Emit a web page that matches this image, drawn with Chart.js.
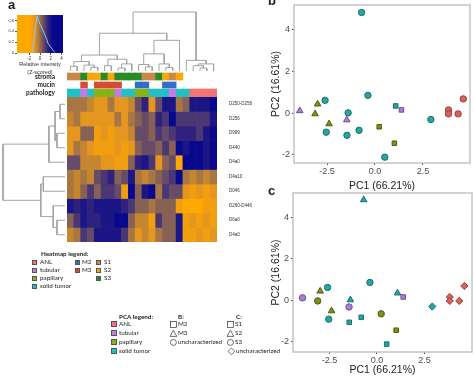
<!DOCTYPE html>
<html>
<head>
<meta charset="utf-8">
<script src="https://cdn.jsdelivr.net/npm/chart.js@4.4.1/dist/chart.umd.min.js"></script>
<style>
  body { margin: 0; width: 474px; height: 376px; overflow: hidden; position: relative; background: #fff; font-family: 'Lato', 'Open Sans', sans-serif; }
  canvas { position: absolute; }
  .t { position: absolute; white-space: nowrap; color: #222; }
  .box { position: absolute; box-sizing: border-box; border: 0.6px solid #555; }
  svg { position: absolute; overflow: visible; }
</style>
</head>
<body>
<script>
// ---- data ----
const rowLabels = ['D250-D258', 'D256', 'D999', 'D440', 'D4a0', 'D4a10', 'D046', 'D260-D446', 'D6a0', 'D4a0'];
const pathology = ['solid tumor','solid tumor','tubular','solid tumor','papillary','papillary','papillary','tubular','solid tumor','solid tumor','papillary','papillary','solid tumor','solid tumor','solid tumor','tubular','solid tumor','solid tumor','ANL','ANL','ANL','ANL'];
const mucin = [null,null,'M3',null,'M3','M3','M3','M3',null,null,'M2','M2',null,null,'M2','M2',null,null,null,null,null,null];
const stroma = ['S1','S1','S3','S2','S2','S3','S2','S3','S3','S3','S3','S1','S1','S3','S2','S1','S2',null,null,null,null,null];

// relative intensity (z-scored), one array per heatmap row
const z0 = [-0.5,-0.5,-0.5,-1,-1.5,-1.5,-0.5,-1.5,-1.5,-1,0.5,1.5,-1.5,0.5,2,2,-0.5,0,2,2,2,2.5];
const z1 = [-1,-0.5,-1.5,-1.5,-1.5,-1.5,-1.5,-0.5,-1.5,-0.5,0,0.5,0,1.5,1,2.5,1,1,1,1,1,2];
const z2 = [-1.5,-1.5,0,0,-2,-1.5,-2,-1.5,-1.5,-1,0.5,0.5,0,1,0.5,1,1.5,1.5,1.5,1,2,2.5];
const z3 = [-1.5,-0.5,-1,-1.5,-2,-2,-2,-1.5,-2,-1.5,0,0.5,0.5,0,1,0,2.5,2,2.5,2.5,2,2.5];
const z4 = [0.5,0.5,-1,-1,-1,-1.5,-1.5,-2,-2,0,1.5,2,1,-1.5,0,0.5,-2.5,2.5,2.5,2.5,2,2.5];
const z5 = [-0.5,-1,-0.5,-1,0.5,1,1.5,0,0.5,2,-0.5,-1,-0.5,0,0.5,1,2.5,-0.5,-1,-0.5,-1,-0.5];
const z6 = [-0.5,-1,0,1,0,1,1,0.5,-2,2.5,0,2,2.5,-0.5,1,0.5,0.5,-1.5,-2,-1.5,-2,-1.5];
const z7 = [2,1.5,2,1.5,2,2,2,2,1.5,1,0,0,-0.5,0,0,0,-2,-2.5,-2.5,-2.5,-2,-2];
const z8 = [0,1,2,1.5,1.5,2,2,2.5,2.5,0,-1,-1,-2,1,0,0,2,-2,-1.5,-2,-1.5,-2];
const z9 = [-1,-0.5,1,0.5,2,2,2,2,1,-0.5,-1.5,-1,-1.5,-0.5,0,0,2,-2,-2,-1.5,-2,-1.5];
const heat = [z0, z1, z2, z3, z4, z5, z6, z7, z8, z9];

// dendrograms: [left node, right node, height]
const colMerges = [[0,1,0.8],[3,4,0.6],[2,23,1.0],[22,24,1.6],[5,6,0.9],[7,8,0.5],[27,9,1.2],[26,28,2.0],[25,29,2.7],
  [11,12,0.7],[10,31,1.1],[14,15,0.6],[13,33,1.2],[32,34,2.9],[35,16,5.2],[30,36,6.4],
  [19,20,0.5],[18,38,0.9],[39,21,1.2],[17,40,1.8],[37,41,10]];
const rowMerges = [[0,1,0.8],[2,3,1.3],[10,11,1.6],[12,4,2.6],[5,6,3.5],[8,9,1.3],[7,15,1.9],[14,16,3.9],[13,17,10]];

// colour key: distribution of z-scores
const keyZ = [-1.5,-1.1,-0.8,-0.56,-0.3,0,0.4,0.93,1.2,1.5,1.9,2.24,2.5,2.8];
const keyDensity = [0,0.25,0.5,0.68,0.6,0.53,0.45,0.33,0.27,0.18,0.12,0.08,0.04,0.01];

// PCA scores, same sample order as heatmap columns
const pc1 = [-1.46,-0.83,-3.92,-1.40,-2.99,-3.12,-2.39,-1.47,-2.60,-2.54,0.22,1.01,0.51,-0.37,1.08,1.38,-0.70,2.91,3.83,3.83,4.33,4.60];
const pc2 = [-1.07,-0.83,0.11,0.01,0.43,-0.04,-0.52,-0.33,0.61,-0.92,-0.66,-1.45,-2.12,0.85,0.34,0.15,4.83,-0.31,0.15,-0.04,-0.04,0.68];

// ---- styles ----
const pathCol = {'ANL':'#f27472','tubular':'#c47be6','papillary':'#86b418','solid tumor':'#22c0c6'};
const mucinCol = {'M2':'#2f6fc9','M3':'#d84a32'};
const stromaCol = {'S1':'#c98848','S2':'#f7a80c','S3':'#2a8a28'};
const pcaFill = {'ANL':'#d9625f','tubular':'#a97fd2','papillary':'#7f901f','solid tumor':'#27a6a1'};
const pcaEdge = {'ANL':'#9c3c3a','tubular':'#6e4c96','papillary':'#4f5c10','solid tumor':'#17716d'};
const mucinShape = {'M2':'rect','M3':'triangle'};
const stromaShape = {'S1':'rect','S2':'triangle','S3':'circle'};

const rampStops = [[-2.5,[255,168,0]],[-1.5,[228,150,30]],[-0.5,[168,118,66]],[0.5,[102,76,104]],[1.5,[46,34,126]],[2.5,[8,8,140]]];
function ramp(v) {
  if (v <= rampStops[0][0]) return 'rgb(' + rampStops[0][1] + ')';
  for (let i = 1; i < rampStops.length; i++) {
    const [a, ca] = rampStops[i - 1], [b, cb] = rampStops[i];
    if (v <= b) {
      const f = (v - a) / (b - a);
      return 'rgb(' + ca.map((c, k) => Math.round(c + (cb[k] - c) * f)).join(',') + ')';
    }
  }
  return 'rgb(' + rampStops[rampStops.length - 1][1] + ')';
}

Chart.defaults.font.family = "'Liberation Sans', Arial, sans-serif";
Chart.defaults.plugins.legend.display = false;
Chart.defaults.plugins.tooltip.enabled = false;
Chart.defaults.animation = false;
Chart.defaults.layout.autoPadding = false;

// fixed axis size, no extra room for edge labels
function fixW(w) { return s => { s.width = w; s.paddingTop = 0; s.paddingBottom = 0; }; }
function fixH(h) { return s => { s.height = h; s.paddingLeft = 0; s.paddingRight = 0; }; }

function mk(x, y, w, h, cfg) {
  const c = document.createElement('canvas');
  c.width = w; c.height = h;
  c.style.left = x + 'px'; c.style.top = y + 'px';
  c.style.width = w + 'px'; c.style.height = h + 'px';
  document.body.appendChild(c);
  cfg.options = Object.assign({ responsive: false, devicePixelRatio: 1 }, cfg.options);
  return new Chart(c, cfg);
}
function txt(s, x, y, size, extra) {
  const d = document.createElement('div');
  d.className = 't';
  d.textContent = s;
  d.style.left = x + 'px';
  d.style.top = (y - size * 0.6) + 'px';
  d.style.fontSize = size + 'px';
  d.style.lineHeight = (size * 1.2) + 'px';
  if (extra) Object.assign(d.style, extra);
  document.body.appendChild(d);
  return d;
}
function box(x, y, col, sz) {
  const d = document.createElement('div');
  d.className = 'box';
  d.style.left = x + 'px'; d.style.top = (y - sz / 2) + 'px';
  d.style.width = sz + 'px'; d.style.height = sz + 'px';
  d.style.background = col;
  document.body.appendChild(d);
}
function shape(kind, x, y) {
  const s = document.createElementNS('http://www.w3.org/2000/svg', 'svg');
  s.setAttribute('width', 7); s.setAttribute('height', 7);
  s.style.left = x + 'px'; s.style.top = (y - 3.5) + 'px';
  const st = 'fill="none" stroke="#333" stroke-width="0.7"';
  const m = {
    square: '<rect x="0.4" y="0.4" width="6" height="6" ' + st + '/>',
    triangle: '<polygon points="3.4,0.2 6.8,6.4 0,6.4" ' + st + '/>',
    circle: '<circle cx="3.4" cy="3.4" r="3" ' + st + '/>',
    diamond: '<polygon points="3.4,0 6.8,3.4 3.4,6.8 0,3.4" ' + st + '/>'
  };
  s.innerHTML = m[kind];
  document.body.appendChild(s);
}

const cols = pathology.map((_, i) => i);

// ---- colour key ----
mk(0, 10, 70, 70, {
  type: 'line',
  data: { datasets: [{ data: keyZ.map((v, i) => ({ x: v, y: keyDensity[i] })), borderColor: '#86cdea', borderWidth: 1, pointRadius: 0, tension: 0 }] },
  options: {
    layout: { padding: { top: 5, right: 7 } },
    scales: {
      x: { type: 'linear', min: -4.3, max: 4.3, grid: { display: true, drawOnChartArea: false, tickLength: 2, color: '#555' }, border: { display: false },
        afterBuildTicks: s => { s.ticks = [-2, 0, 2, 4].map(v => ({ value: v })); },
        afterFit: fixH(27),
        ticks: { font: { size: 4.5 }, color: '#333', padding: 1, maxRotation: 0 },
        title: { display: true, text: ['Relative intensity', '(Z-scored)'], font: { size: 5.5, lineHeight: 1.4 }, color: '#333', padding: { top: 2 } } },
      y: { min: 0, max: 0.7, grid: { display: true, drawOnChartArea: false, tickLength: 2, color: '#555' }, border: { display: false },
        afterBuildTicks: s => { s.ticks = [0, 0.2, 0.4, 0.6].map(v => ({ value: v })); },
        afterFit: fixW(17),
        ticks: { font: { size: 4 }, color: '#333', padding: 1 } }
    }
  },
  plugins: [{
    id: 'keyfill',
    beforeDatasetsDraw(chart) {
      const { ctx, chartArea: a, scales: { x } } = chart;
      const g = ctx.createLinearGradient(a.left, 0, a.right, 0);
      for (let v = -4.3; v <= 4.3; v += 0.25) {
        g.addColorStop((x.getPixelForValue(v) - a.left) / (a.right - a.left), ramp(v * 1.2 - 0.3));
      }
      ctx.fillStyle = g;
      ctx.fillRect(a.left, a.top, a.right - a.left, a.bottom - a.top);
    }
  }]
});

// ---- column dendrogram ----
function dendroLinks(n, merges) {
  const pos = [], ht = [], links = [];
  for (let i = 0; i < n; i++) { pos.push(i); ht.push(0); }
  merges.forEach(([a, b, h]) => {
    links.push([[pos[a], ht[a]], [pos[a], h], [pos[b], h], [pos[b], ht[b]]]);
    pos.push((pos[a] + pos[b]) / 2); ht.push(h);
  });
  return links;
}
const dendroStyle = { borderColor: '#a3a3a3', borderWidth: 1, pointRadius: 0, showLine: true, clip: false };
mk(60, 8, 164, 66, {
  type: 'scatter',
  data: { datasets: dendroLinks(22, colMerges).map(l => Object.assign({ data: l.map(p => ({ x: p[0], y: p[1] })) }, dendroStyle)) },
  options: {
    layout: { padding: { left: 7, right: 7, top: 4, bottom: 3 } },
    scales: { x: { display: false, min: -0.5, max: 21.5 }, y: { display: false, min: 0, max: 10 } }
  }
});

// ---- row dendrogram ----
mk(0, 96, 68, 148, {
  type: 'scatter',
  data: { datasets: dendroLinks(10, rowMerges).map(l => Object.assign({ data: l.map(p => ({ x: p[1], y: p[0] })) }, dendroStyle)) },
  options: {
    layout: { padding: { left: 3, right: 3, top: 1, bottom: 2 } },
    scales: { x: { display: false, min: 0, max: 10, reverse: true }, y: { display: false, min: -0.5, max: 9.5, reverse: true } }
  }
});

// ---- annotation bars ----
const annRows = [
  { name: 'stroma', vals: stroma, colors: stromaCol, span: [0.12, 0.96] },
  { name: 'mucin', vals: mucin, colors: mucinCol, span: [1.2, 1.92] },
  { name: 'pathology', vals: pathology, colors: pathCol, span: [2.04, 3] }
];
mk(0, 71, 217, 27, {
  type: 'bar',
  data: {
    labels: cols,
    datasets: annRows.map(r => ({
      data: r.vals.map(v => v ? r.span : null),
      backgroundColor: r.vals.map(v => v ? r.colors[v] : 'transparent'),
      grouped: false, barPercentage: 1, categoryPercentage: 1, borderWidth: 0
    }))
  },
  options: {
    layout: { padding: { top: 1, bottom: 1 } },
    scales: {
      x: { display: false },
      y: { min: 0, max: 3, reverse: true, grid: { display: false }, border: { display: false },
        afterBuildTicks: s => { s.ticks = annRows.map(r => ({ value: (r.span[0] + r.span[1]) / 2 })); },
        afterFit: fixW(67),
        ticks: { autoSkip: false, callback: (v, i) => annRows[i].name, font: { size: 6.5, weight: 'bold', family: "'Lato', sans-serif" }, color: '#222', padding: 4 } }
    }
  }
});

// ---- heatmap ----
mk(60, 96, 195, 148, {
  type: 'bar',
  data: {
    labels: cols,
    datasets: heat.map((row, r) => ({
      data: row.map(() => [r, r + 1]),
      backgroundColor: row.map(ramp),
      grouped: false, barPercentage: 1, categoryPercentage: 1, borderWidth: 0
    }))
  },
  options: {
    layout: { padding: { left: 7, top: 1, bottom: 2 } },
    scales: {
      x: { display: false },
      y: { position: 'right', min: 0, max: 10, reverse: true, grid: { display: false }, border: { display: false },
        afterBuildTicks: s => { s.ticks = rowLabels.map((_, i) => ({ value: i + 0.5 })); },
        afterFit: fixW(38),
        ticks: { autoSkip: false, callback: (v, i) => rowLabels[i], font: { size: 4.5 }, color: '#333', padding: 4 } }
    }
  }
});

// ---- PCA panels ----
const framePlugin = {
  id: 'frame',
  afterDraw(chart) {
    const { ctx, chartArea: a } = chart;
    ctx.save();
    ctx.strokeStyle = '#c4c4c4'; ctx.lineWidth = 1.5;
    ctx.strokeRect(a.left, a.top, a.right - a.left, a.bottom - a.top);
    ctx.restore();
  }
};
// r: xmin, xmax, ymin, ymax; yw: y-axis width; xh: x-axis height
function pca(x, y, w, h, pad, r, yw, xh, shapes) {
  return mk(x, y, w, h, {
    type: 'scatter',
    data: {
      datasets: [{
        data: pc1.map((v, i) => ({ x: v, y: pc2[i] })),
        pointStyle: shapes,
        pointRadius: shapes.map(s => s === 'triangle' ? 3.8 : s === 'rectRot' ? 3.6 : 3.2),
        backgroundColor: pathology.map(p => pcaFill[p]),
        borderColor: pathology.map(p => pcaEdge[p]),
        borderWidth: 1
      }]
    },
    options: {
      layout: { padding: pad },
      scales: {
        x: { type: 'linear', min: r[0], max: r[1], grid: { drawOnChartArea: false, tickLength: 2, color: '#444' }, border: { display: false },
          afterBuildTicks: s => { s.ticks = [-2.5, 0, 2.5].map(v => ({ value: v })); },
          afterFit: fixH(xh),
          ticks: { callback: v => v.toFixed(1), font: { size: 9 }, color: '#4d4d4d', padding: 1, maxRotation: 0 },
          title: { display: true, text: 'PC1 (66.21%)', font: { size: 10.5 }, color: '#1a1a1a', padding: 0 } },
        y: { min: r[2], max: r[3], grid: { drawOnChartArea: false, tickLength: 2, color: '#444' }, border: { display: false },
          afterBuildTicks: s => { s.ticks = [-2, 0, 2, 4].map(v => ({ value: v })); },
          afterFit: fixW(yw),
          ticks: { font: { size: 9 }, color: '#4d4d4d', padding: 2 },
          title: { display: true, text: 'PC2 (16.61%)', font: { size: 10.5 }, color: '#1a1a1a', padding: 0 } }
      }
    },
    plugins: [framePlugin]
  });
}
pca(270, 0, 204, 192, { top: 5, right: 4 }, [-4.22, 4.95, -2.4, 5.19], 24, 29, pathology.map((p, i) => mucin[i] ? mucinShape[mucin[i]] : 'circle'));
pca(270, 188, 204, 188, { top: 5, right: 2 }, [-4.42, 5.0, -2.5, 5.16], 23, 24, pathology.map((p, i) => stroma[i] ? stromaShape[stroma[i]] : 'rectRot'));

// ---- panel letters ----
const letter = { fontWeight: 'bold', fontFamily: "'Liberation Sans', Arial, sans-serif" };
txt('a', 8, 5, 13, letter);
txt('b', 268, 1, 13, letter);
txt('c', 268, 191, 13, letter);

// ---- heatmap legend ----
const pathNames = ['ANL', 'tubular', 'papillary', 'solid tumor'];
const lf = 6.3;
txt('Heatmap legend:', 41, 254, lf, { fontWeight: 'bold' });
pathNames.forEach((n, i) => { box(32, 262 + i * 8, pathCol[n], 5); txt(n, 40, 262 + i * 8, lf); });
['M2', 'M3'].forEach((n, i) => { box(75, 262 + i * 8, mucinCol[n], 5); txt(n, 82, 262 + i * 8, lf); });
['S1', 'S2', 'S3'].forEach((n, i) => { box(96, 262 + i * 8, stromaCol[n], 5); txt(n, 104, 262 + i * 8, lf); });

// ---- PCA legend ----
txt('PCA legend:', 119, 317, lf, { fontWeight: 'bold' });
pathNames.forEach((n, i) => { box(111, 324 + i * 9, pathCol[n], 6); txt(n, 119, 324 + i * 9, lf); });
txt('B:', 178, 317, lf, { fontWeight: 'bold' });
[['square', 'M2'], ['triangle', 'M3'], ['circle', 'uncharacterized']].forEach(([s, n], i) => { shape(s, 170, 324 + i * 9); txt(n, 178, 324 + i * 9, lf); });
txt('C:', 236, 317, lf, { fontWeight: 'bold' });
[['square', 'S1'], ['triangle', 'S2'], ['circle', 'S3']].forEach(([s, n], i) => { shape(s, 227, 324 + i * 9); txt(n, 235, 324 + i * 9, lf); });
shape('diamond', 228, 351); txt('uncharacterized', 236, 351, lf);
</script>
</body>
</html>
